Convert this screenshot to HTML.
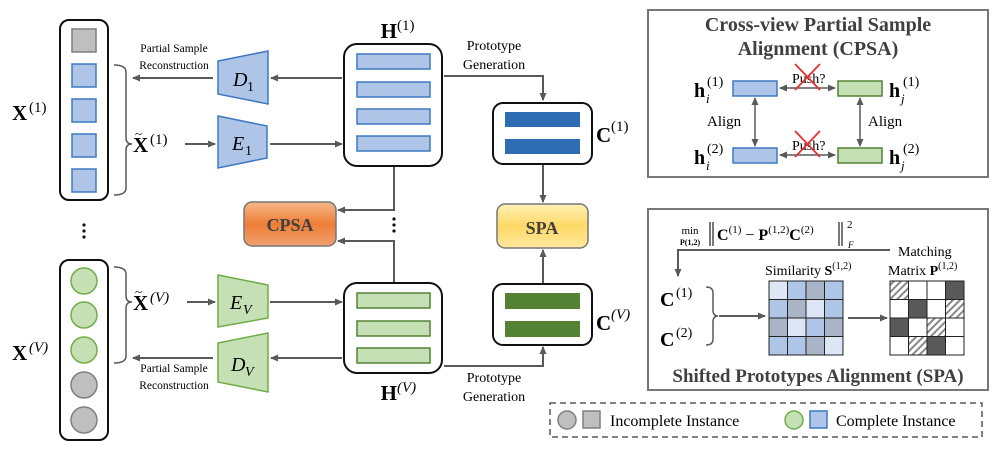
<!DOCTYPE html>
<html><head><meta charset="utf-8"><style>
body{margin:0;background:#fff}
svg{display:block}
text{font-family:"Liberation Serif",serif}
.b{font-weight:bold}
</style></head><body>
<svg width="997" height="450" viewBox="0 0 997 450" xmlns="http://www.w3.org/2000/svg">
<defs>
<marker id="a" markerWidth="8" markerHeight="8" refX="7" refY="4" orient="auto" markerUnits="userSpaceOnUse"><path d="M0,0.5 L8,4 L0,7.5 Z" fill="#595959"/></marker>
<marker id="ar" markerWidth="8" markerHeight="8" refX="1" refY="4" orient="auto" markerUnits="userSpaceOnUse"><path d="M8,0.5 L0,4 L8,7.5 Z" fill="#595959"/></marker>
<linearGradient id="og" x1="0" y1="0" x2="0" y2="1"><stop offset="0" stop-color="#f6b98a"/><stop offset="0.5" stop-color="#ee7d35"/><stop offset="1" stop-color="#f0a070"/></linearGradient>
<linearGradient id="yg" x1="0" y1="0" x2="0" y2="1"><stop offset="0" stop-color="#fff1b8"/><stop offset="0.5" stop-color="#ffd966"/><stop offset="1" stop-color="#ffe8a0"/></linearGradient>
<pattern id="h" width="5" height="5" patternUnits="userSpaceOnUse" patternTransform="rotate(45)"><rect width="5" height="5" fill="#fff"/><rect width="2" height="5" fill="#888"/></pattern>
</defs>
<g stroke="#595959" stroke-width="2" fill="none">
<rect x="60" y="20" width="48" height="180" rx="9" stroke="#111"/>
<rect x="60" y="260" width="48" height="180" rx="9" stroke="#111"/>
</g>
<rect x="72" y="29" width="24" height="23" fill="#bfbfbf" stroke="#7f7f7f" stroke-width="1.5"/>
<g fill="#aec5e8" stroke="#3d78c0" stroke-width="1.5">
<rect x="72" y="64" width="24" height="23"/><rect x="72" y="99" width="24" height="23"/><rect x="72" y="134" width="24" height="23"/><rect x="72" y="169" width="24" height="23"/>
</g>
<g fill="#c5e0b4" stroke="#70ad47" stroke-width="1.5"><circle cx="84" cy="281" r="13"/><circle cx="84" cy="315" r="13"/><circle cx="84" cy="350" r="13"/></g>
<g fill="#bfbfbf" stroke="#7f7f7f" stroke-width="1.5"><circle cx="84" cy="385" r="13"/><circle cx="84" cy="420" r="13"/></g>
<g fill="#111"><circle cx="84" cy="225" r="1.6"/><circle cx="84" cy="231" r="1.6"/><circle cx="84" cy="237" r="1.6"/>
<circle cx="394" cy="219" r="1.6"/><circle cx="394" cy="225" r="1.6"/><circle cx="394" cy="231" r="1.6"/></g>
<text x="12" y="120" font-size="21" class="b">X</text><text x="29" y="112" font-size="15">(1)</text>
<text x="12" y="360" font-size="21" class="b">X</text><text x="29" y="352" font-size="15" font-style="italic">(V)</text>
<g stroke="#595959" stroke-width="1.5" fill="none">
<path d="M114,65 Q126,65 126,72 L126,138 Q126,144 132,144 Q126,144 126,150 L126,188 Q126,195 114,195"/>
<path d="M114,267 Q126,267 126,274 L126,296 Q126,302 132,302 Q126,302 126,308 L126,356 Q126,363 114,363"/>
</g>
<text x="133" y="152" font-size="21" class="b">X</text><text x="135" y="138" font-size="13">~</text><text x="150" y="144" font-size="15">(1)</text>
<text x="133" y="310" font-size="21" class="b">X</text><text x="135" y="296" font-size="13">~</text><text x="150" y="302" font-size="15" font-style="italic">(V)</text>
<text x="174" y="52" font-size="11.5" text-anchor="middle">Partial Sample</text>
<text x="174" y="69" font-size="11.5" text-anchor="middle">Reconstruction</text>
<text x="174" y="372" font-size="11.5" text-anchor="middle">Partial Sample</text>
<text x="174" y="389" font-size="11.5" text-anchor="middle">Reconstruction</text>
<polygon points="218,61 268,51 268,104 218,94" fill="#aec5e8" stroke="#3d78c0" stroke-width="1.5"/>
<polygon points="218,116 267,126 267,158 218,168" fill="#aec5e8" stroke="#3d78c0" stroke-width="1.5"/>
<polygon points="218,275 268,285 268,318 218,327" fill="#c5e0b4" stroke="#70ad47" stroke-width="1.5"/>
<polygon points="218,343 268,333 268,392 218,382" fill="#c5e0b4" stroke="#70ad47" stroke-width="1.5"/>
<text x="233" y="86" font-size="20" font-style="italic">D</text><text x="247" y="91" font-size="14">1</text>
<text x="232" y="150" font-size="20" font-style="italic">E</text><text x="245" y="155" font-size="14">1</text>
<text x="230" y="309" font-size="20" font-style="italic">E</text><text x="243" y="314" font-size="14" font-style="italic">V</text>
<text x="231" y="371" font-size="20" font-style="italic">D</text><text x="245" y="376" font-size="14" font-style="italic">V</text>
<g stroke="#595959" stroke-width="2" fill="none">
<line x1="342" y1="78" x2="271" y2="78" marker-end="url(#a)"/>
<line x1="213" y1="78" x2="133" y2="78" marker-end="url(#a)"/>
<line x1="185" y1="144" x2="215" y2="144" marker-end="url(#a)"/>
<line x1="270" y1="144" x2="342" y2="144" marker-end="url(#a)"/>
<line x1="187" y1="302" x2="215" y2="302" marker-end="url(#a)"/>
<line x1="270" y1="302" x2="342" y2="302" marker-end="url(#a)"/>
<line x1="342" y1="358" x2="271" y2="358" marker-end="url(#a)"/>
<line x1="213" y1="358" x2="133" y2="358" marker-end="url(#a)"/>
<polyline points="444,76 543,76 543,100" marker-end="url(#a)"/>
<polyline points="444,366 543,366 543,347" marker-end="url(#a)"/>
<line x1="543" y1="164" x2="543" y2="202" marker-end="url(#a)"/>
<line x1="543" y1="283" x2="543" y2="250" marker-end="url(#a)"/>
<polyline points="394,166 394,210 338,210" marker-end="url(#a)"/>
<polyline points="394,283 394,241 338,241" marker-end="url(#a)"/>
</g>
<rect x="344" y="44" width="98" height="122" rx="13" fill="#fff" stroke="#111" stroke-width="2"/>
<g fill="#aec5e8" stroke="#3d78c0" stroke-width="1.5"><rect x="357" y="54" width="73" height="15"/><rect x="357" y="82" width="73" height="15"/><rect x="357" y="109" width="73" height="15"/><rect x="357" y="136" width="73" height="15"/></g>
<rect x="344" y="283" width="98" height="90" rx="13" fill="#fff" stroke="#111" stroke-width="2"/>
<g fill="#c5e0b4" stroke="#548235" stroke-width="1.5"><rect x="357" y="293" width="73" height="15"/><rect x="357" y="321" width="73" height="15"/><rect x="357" y="348" width="73" height="15"/></g>
<text x="397" y="38" font-size="21" class="b" text-anchor="end">H</text><text x="397" y="30" font-size="15">(1)</text>
<text x="397" y="400" font-size="21" class="b" text-anchor="end">H</text><text x="397" y="392" font-size="15" font-style="italic">(V)</text>
<text x="494" y="50" font-size="14" text-anchor="middle">Prototype</text>
<text x="494" y="69" font-size="14" text-anchor="middle">Generation</text>
<text x="494" y="382" font-size="14" text-anchor="middle">Prototype</text>
<text x="494" y="401" font-size="14" text-anchor="middle">Generation</text>
<rect x="493" y="103" width="99" height="61" rx="10" fill="#fff" stroke="#111" stroke-width="2"/>
<rect x="505" y="112" width="75" height="15" fill="#2e6db4"/><rect x="505" y="139" width="75" height="15" fill="#2e6db4"/>
<rect x="493" y="284" width="99" height="61" rx="10" fill="#fff" stroke="#111" stroke-width="2"/>
<rect x="505" y="293" width="75" height="16" fill="#548235"/><rect x="505" y="321" width="75" height="16" fill="#548235"/>
<text x="596" y="142" font-size="21" class="b">C</text><text x="611" y="131" font-size="15">(1)</text>
<text x="596" y="330" font-size="21" class="b">C</text><text x="611" y="319" font-size="15" font-style="italic">(V)</text>
<rect x="244" y="202" width="92" height="44" rx="8" fill="url(#og)" stroke="#777" stroke-width="1.5"/>
<text x="290" y="231" font-size="18" class="b" text-anchor="middle" fill="#404040">CPSA</text>
<rect x="497" y="204" width="91" height="44" rx="8" fill="url(#yg)" stroke="#777" stroke-width="1.5"/>
<text x="542" y="234" font-size="18" class="b" text-anchor="middle" fill="#404040">SPA</text>
<rect x="648" y="10" width="340" height="167" fill="#fff" stroke="#777" stroke-width="2"/>
<text x="818" y="31" font-size="20" class="b" text-anchor="middle" fill="#404040">Cross-view Partial Sample</text>
<text x="818" y="55" font-size="20" class="b" text-anchor="middle" fill="#404040">Alignment (CPSA)</text>
<g stroke-width="1.5"><rect x="733" y="81" width="44" height="15" fill="#aec5e8" stroke="#3d78c0"/><rect x="733" y="148" width="44" height="15" fill="#aec5e8" stroke="#3d78c0"/>
<rect x="838" y="81" width="44" height="15" fill="#c5e0b4" stroke="#548235"/><rect x="838" y="148" width="44" height="15" fill="#c5e0b4" stroke="#548235"/></g>
<g stroke="#595959" stroke-width="1.5">
<line x1="780" y1="88" x2="835" y2="88" marker-start="url(#ar)" marker-end="url(#a)"/>
<line x1="780" y1="155" x2="835" y2="155" marker-start="url(#ar)" marker-end="url(#a)"/>
<line x1="755" y1="98" x2="755" y2="146" marker-start="url(#ar)" marker-end="url(#a)"/>
<line x1="860" y1="98" x2="860" y2="146" marker-start="url(#ar)" marker-end="url(#a)"/>
</g>
<text x="792" y="83" font-size="14">Push?</text><text x="792" y="150" font-size="14">Push?</text>
<g stroke="#e53030" stroke-width="1.8"><line x1="795" y1="64" x2="820" y2="90"/><line x1="820" y1="64" x2="795" y2="90"/>
<line x1="795" y1="131" x2="820" y2="157"/><line x1="820" y1="131" x2="795" y2="157"/></g>
<text x="707" y="126" font-size="15">Align</text><text x="868" y="126" font-size="15">Align</text>
<text x="694" y="97" font-size="20" class="b">h</text><text x="706" y="103" font-size="13" font-style="italic">i</text><text x="707" y="86" font-size="14">(1)</text>
<text x="694" y="164" font-size="20" class="b">h</text><text x="706" y="170" font-size="13" font-style="italic">i</text><text x="707" y="153" font-size="14">(2)</text>
<text x="889" y="97" font-size="20" class="b">h</text><text x="901" y="103" font-size="13" font-style="italic">j</text><text x="903" y="86" font-size="14">(1)</text>
<text x="889" y="164" font-size="20" class="b">h</text><text x="901" y="170" font-size="13" font-style="italic">j</text><text x="903" y="153" font-size="14">(2)</text>
<rect x="648" y="209" width="340" height="181" fill="#fff" stroke="#777" stroke-width="2"/>
<text x="690" y="234" font-size="11" text-anchor="middle">min</text>
<text x="690" y="245" font-size="8" class="b" text-anchor="middle">P(1,2)</text>
<g stroke="#222" stroke-width="1.2"><line x1="710" y1="222" x2="710" y2="246"/><line x1="713" y1="222" x2="713" y2="246"/><line x1="839" y1="222" x2="839" y2="246"/><line x1="842" y1="222" x2="842" y2="246"/></g>
<text x="717" y="240" font-size="16"><tspan class="b">C</tspan><tspan font-size="11" dy="-7">(1)</tspan><tspan dy="7"> − </tspan><tspan class="b">P</tspan><tspan font-size="11" dy="-7">(1,2)</tspan><tspan dy="7" class="b">C</tspan><tspan font-size="11" dy="-7">(2)</tspan></text>
<text x="847" y="228" font-size="11">2</text><text x="848" y="248" font-size="9" font-style="italic">F</text>
<polyline points="890,250 678,250 678,276" stroke="#595959" stroke-width="2" fill="none" marker-end="url(#a)"/>
<text x="898" y="256" font-size="14">Matching</text>
<text x="888" y="275" font-size="14">Matrix <tspan class="b">P</tspan><tspan font-size="10" dy="-6">(1,2)</tspan></text>
<text x="765" y="275" font-size="14">Similarity <tspan class="b">S</tspan><tspan font-size="10" dy="-6">(1,2)</tspan></text>
<text x="660" y="306" font-size="20" class="b">C</text><text x="676" y="297" font-size="14">(1)</text>
<text x="660" y="346" font-size="20" class="b">C</text><text x="676" y="337" font-size="14">(2)</text>
<path d="M706,287 Q713,287 713,293 L713,310 Q713,316 718,316 Q713,316 713,322 L713,339 Q713,345 706,345" stroke="#595959" stroke-width="1.5" fill="none"/>
<line x1="719" y1="316" x2="765" y2="316" stroke="#595959" stroke-width="2" marker-end="url(#a)"/>
<line x1="848" y1="318" x2="887" y2="318" stroke="#595959" stroke-width="2" marker-end="url(#a)"/>
<g stroke="#222" stroke-width="1">
<rect x="769" y="281" width="18.5" height="18.5" fill="#dce6f4"/><rect x="787.5" y="281" width="18.5" height="18.5" fill="#aec5e8"/><rect x="806" y="281" width="18.5" height="18.5" fill="#a9b5c6"/><rect x="824.5" y="281" width="18.5" height="18.5" fill="#aec5e8"/>
<rect x="769" y="299.5" width="18.5" height="18.5" fill="#aec5e8"/><rect x="787.5" y="299.5" width="18.5" height="18.5" fill="#a9b5c6"/><rect x="806" y="299.5" width="18.5" height="18.5" fill="#dce6f4"/><rect x="824.5" y="299.5" width="18.5" height="18.5" fill="#aec5e8"/>
<rect x="769" y="318" width="18.5" height="18.5" fill="#a9b5c6"/><rect x="787.5" y="318" width="18.5" height="18.5" fill="#dce6f4"/><rect x="806" y="318" width="18.5" height="18.5" fill="#aec5e8"/><rect x="824.5" y="318" width="18.5" height="18.5" fill="#a9b5c6"/>
<rect x="769" y="336.5" width="18.5" height="18.5" fill="#aec5e8"/><rect x="787.5" y="336.5" width="18.5" height="18.5" fill="#aec5e8"/><rect x="806" y="336.5" width="18.5" height="18.5" fill="#a9b5c6"/><rect x="824.5" y="336.5" width="18.5" height="18.5" fill="#dce6f4"/>
<rect x="890" y="281" width="18.5" height="18.5" fill="url(#h)"/><rect x="908.5" y="281" width="18.5" height="18.5" fill="#fff"/><rect x="927" y="281" width="18.5" height="18.5" fill="#fff"/><rect x="945.5" y="281" width="18.5" height="18.5" fill="#595959"/>
<rect x="890" y="299.5" width="18.5" height="18.5" fill="#fff"/><rect x="908.5" y="299.5" width="18.5" height="18.5" fill="#595959"/><rect x="927" y="299.5" width="18.5" height="18.5" fill="#fff"/><rect x="945.5" y="299.5" width="18.5" height="18.5" fill="url(#h)"/>
<rect x="890" y="318" width="18.5" height="18.5" fill="#595959"/><rect x="908.5" y="318" width="18.5" height="18.5" fill="#fff"/><rect x="927" y="318" width="18.5" height="18.5" fill="url(#h)"/><rect x="945.5" y="318" width="18.5" height="18.5" fill="#fff"/>
<rect x="890" y="336.5" width="18.5" height="18.5" fill="#fff"/><rect x="908.5" y="336.5" width="18.5" height="18.5" fill="url(#h)"/><rect x="927" y="336.5" width="18.5" height="18.5" fill="#595959"/><rect x="945.5" y="336.5" width="18.5" height="18.5" fill="#fff"/>
</g>
<text x="818" y="382" font-size="19" class="b" text-anchor="middle" fill="#404040">Shifted Prototypes Alignment (SPA)</text>
<rect x="550" y="403" width="432" height="34" fill="none" stroke="#595959" stroke-width="1.5" stroke-dasharray="6,4"/>
<circle cx="567" cy="420" r="9" fill="#bfbfbf" stroke="#7f7f7f" stroke-width="1.5"/>
<rect x="583" y="411" width="17" height="17" fill="#bfbfbf" stroke="#7f7f7f" stroke-width="1.5"/>
<text x="610" y="426" font-size="16">Incomplete Instance</text>
<circle cx="794" cy="420" r="9" fill="#c5e0b4" stroke="#70ad47" stroke-width="1.5"/>
<rect x="810" y="411" width="17" height="17" fill="#aec5e8" stroke="#3d78c0" stroke-width="1.5"/>
<text x="836" y="426" font-size="16">Complete Instance</text>
</svg>
</body></html>
